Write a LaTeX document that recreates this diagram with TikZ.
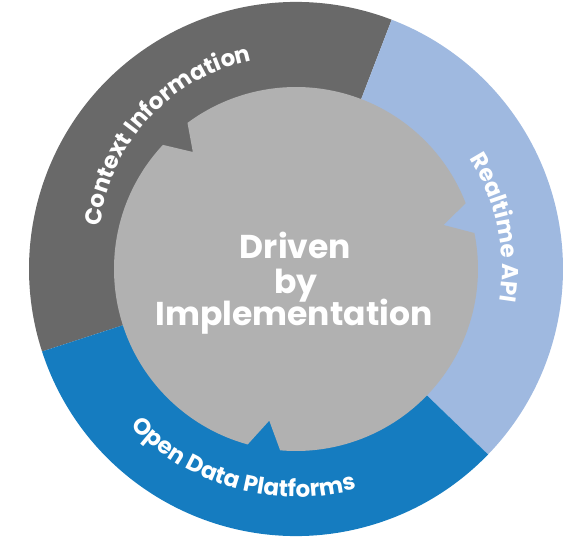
\documentclass[tikz,border=0pt]{standalone}
\usepackage{fontspec}
\setmainfont{Poppins}
\usetikzlibrary{decorations.text}
\definecolor{ringdark}{HTML}{696969}
\definecolor{ringlight}{HTML}{9FB9E0}
\definecolor{ringblue}{HTML}{157CC0}
\definecolor{core}{HTML}{B1B1B1}
\begin{document}
\begin{tikzpicture}[x=1pt,y=1pt,
  centertext/.style={text=white, font=\fontsize{33}{36}\selectfont\bfseries, anchor=base, inner sep=0pt}]
\useasboundingbox (-296,-269) rectangle (270,269);
% ring sectors
\fill[ringdark] (0,0) -- (69:267) arc[start angle=69, end angle=198, radius=267] -- cycle;
\fill[ringlight] (0,0) -- (-44:267) arc[start angle=-44, end angle=69, radius=267] -- cycle;
\fill[ringblue] (0,0) -- (198:267) arc[start angle=198, end angle=316, radius=267] -- cycle;
% core with three arrow notches
\fill[core] (21.2:182) arc[start angle=21.2, end angle=126.6, radius=182]
  -- (131.4:156) -- (137:182) arc[start angle=137, end angle=254.6, radius=182]
  -- (260:154) -- (265:182) arc[start angle=265, end angle=371.4, radius=182]
  -- (16.6:154) -- cycle;
% curved labels
\path[shift={(-6,21)}, decorate, decoration={text along path, text align=center, text color=white,
  text={|\fontsize{23}{26}\selectfont\bfseries|Context Information}}]
  (212.5:191) arc[start angle=212.5, end angle=62.5, radius=191];
\path[decorate, decoration={text along path, text align=center, text color=white,
  text={|\fontsize{23}{26}\selectfont\bfseries|Realtime API}}]
  (81.7:206) arc[start angle=81.7, end angle=-58.3, radius=206];
\path[decorate, decoration={text along path, text align=center, text color=white,
  text={|\fontsize{23}{26}\selectfont\bfseries|Open Data Platforms}}]
  (184.5:228) arc[start angle=184.5, end angle=324.5, radius=228];
% centre text
\node[centertext] (driven) at (-0.5,10) {Driven};
\node[centertext] (by) at (0,-25) {by};
\node[centertext] (impl) at (-2,-57) {Implementation};
\end{tikzpicture}
\end{document}
